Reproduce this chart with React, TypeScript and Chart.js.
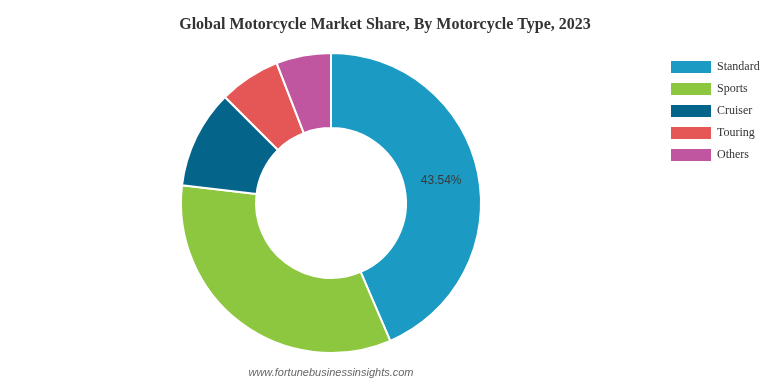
import React, { useEffect, useRef } from "react";
import { Chart, registerables } from "chart.js";

Chart.register(...registerables);

const TITLE = "Global Motorcycle Market Share, By Motorcycle Type, 2023";
const categories = ["Standard", "Sports", "Cruiser", "Touring", "Others"];
const shares = [43.54, 33.36, 10.6, 6.6, 5.9];
const colors = ["#1b9ac4", "#8dc63f", "#04648a", "#e55757", "#c056a0"];
const shownLabels = ["43.54%", "", "", "", ""];
const WATERMARK = "www.fortunebusinessinsights.com";

const overlay = {
  id: "overlay",
  afterDraw(chart: any) {
    const ctx = chart.ctx;
    ctx.save();
    // title
    ctx.fillStyle = "#333333";
    ctx.font = "bold 16px 'Liberation Serif', serif";
    ctx.textAlign = "center";
    ctx.textBaseline = "middle";
    ctx.fillText(TITLE, 385, 25);
    // legend
    ctx.font = "12px 'Liberation Serif', serif";
    ctx.textAlign = "left";
    categories.forEach((c, i) => {
      const y = 67 + i * 22;
      ctx.fillStyle = colors[i];
      ctx.fillRect(671, y - 6, 40, 12);
      ctx.fillStyle = "#333333";
      ctx.fillText(c, 717, y);
    });
    // data labels
    const meta = chart.getDatasetMeta(0);
    ctx.font = "12px 'Liberation Sans', Arial, sans-serif";
    ctx.textAlign = "center";
    meta.data.forEach((arc: any, i: number) => {
      if (!shownLabels[i]) return;
      const p = arc.getProps(["x", "y", "startAngle", "endAngle", "innerRadius", "outerRadius"], true);
      const a = (p.startAngle + p.endAngle) / 2;
      const r = p.innerRadius + (p.outerRadius - p.innerRadius) * 0.5;
      ctx.fillStyle = "#3a3a3a";
      ctx.fillText(shownLabels[i], p.x + Math.cos(a) * r, p.y + Math.sin(a) * r);
    });
    // watermark
    ctx.font = "italic 11px 'Liberation Sans', Arial, sans-serif";
    ctx.fillStyle = "#666666";
    ctx.textAlign = "center";
    ctx.fillText(WATERMARK, 331, 373);
    ctx.restore();
  },
};

export default function App() {
  const ref = useRef<HTMLCanvasElement>(null);
  useEffect(() => {
    document.body.style.margin = "0";
    const chart = new Chart(ref.current!, {
      type: "doughnut",
      data: {
        labels: categories,
        datasets: [
          {
            data: shares,
            backgroundColor: colors,
            borderColor: "#ffffff",
            borderWidth: 2,
          },
        ],
      },
      options: {
        responsive: false,
        animation: false,
        cutout: "50%",
        layout: { padding: { left: 180, right: 288, top: 52, bottom: 31 } },
        plugins: {
          legend: { display: false },
          tooltip: { enabled: false },
          title: { display: false },
        },
      },
      plugins: [overlay],
    });
    return () => chart.destroy();
  }, []);
  return <canvas ref={ref} width={770} height={385} style={{ display: "block" }} />;
}
